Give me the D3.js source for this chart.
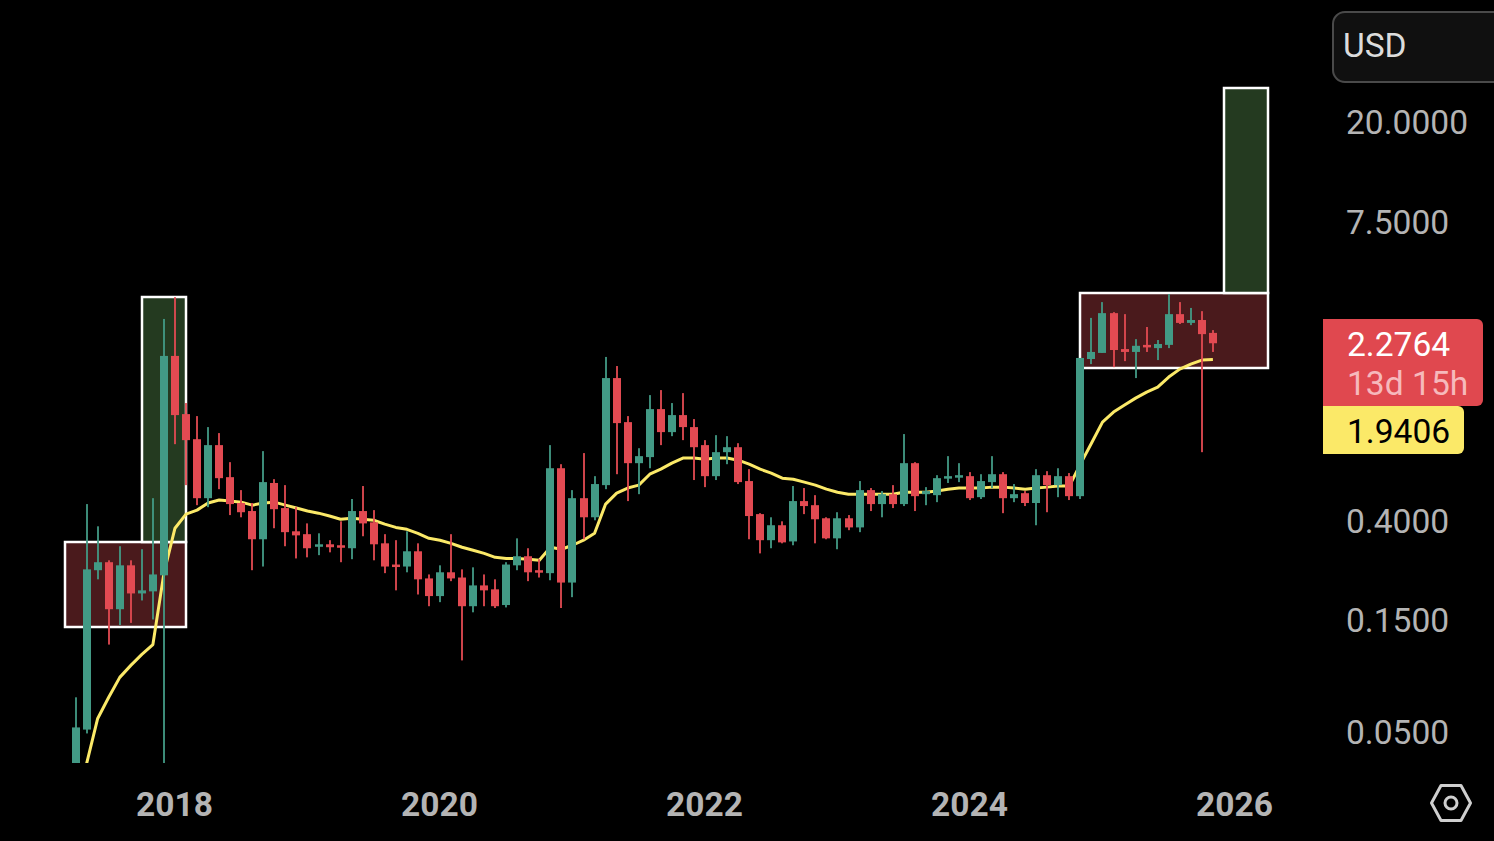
<!DOCTYPE html>
<html>
<head>
<meta charset="utf-8">
<script src="https://cdn.jsdelivr.net/npm/d3@7"></script>
<style>
  html, body { margin: 0; padding: 0; background: #000; overflow: hidden; }
  svg { display: block; font-family: Roboto, sans-serif; }
</style>
</head>
<body>
<script>
const GREEN = "#429a85";
const RED = "#e24a52";
const YELLOW = "#fbe968";
const AXIS_TEXT = "#b4b4b4";

// Monthly candles, first one is Apr 2017
const opens = [.033,.0512,.245,.265,.167,.257,.195,.199,.233,2.01,1.135,.887,.497,.837,.611,.474,.438,.332,.577,.451,.359,.349,.310,.316,.313,.304,.438,.392,.319,.259,.254,.295,.226,.190,.240,.228,.172,.211,.203,.174,.257,.281,.245,.238,.667,.217,.497,.412,.565,1.617,1.049,.701,.744,1.192,.951,1.124,.999,.837,.617,.781,.820,.588,.425,.329,.381,.325,.483,.464,.408,.335,.408,.373,.538,.469,.517,.469,.701,.517,.512,.605,.611,.617,.502,.582,.629,.497,.522,.474,.623,.565,.617,.507,1.95,2.07,3.06,2.15,2.09,2.24,2.17,2.24,3.03,2.78,2.86,2.52];
const highs = [.0703,.469,.377,.270,.310,.270,.301,.497,2.89,3.58,1.265,1.113,.999,.942,.708,.538,.474,.789,.599,.565,.455,.388,.352,.329,.396,.493,.560,.442,.349,.329,.359,.319,.235,.257,.349,.247,.252,.235,.224,.265,.335,.304,.273,.837,.694,.538,.774,.617,1.99,1.82,1.113,.812,1.368,1.437,1.265,1.395,1.081,.879,.923,.914,.853,.661,.429,.412,.396,.560,.549,.512,.412,.433,.421,.588,.549,.533,.565,.933,.708,.554,.623,.751,.701,.642,.629,.751,.642,.571,.533,.661,.648,.667,.636,1.97,2.92,3.41,3.09,3.03,2.37,2.67,2.35,3.69,3.41,3.22,3.12,2.59];
const lows = [.030,.0493,.224,.118,.143,.146,.182,.151,.030,.845,.565,.464,.455,.543,.421,.412,.245,.254,.370,.310,.275,.278,.284,.292,.265,.273,.342,.270,.238,.201,.240,.193,.172,.179,.220,.101,.162,.172,.169,.170,.245,.220,.228,.222,.169,.188,.332,.400,.543,.629,.483,.517,.667,.837,.914,.879,.594,.554,.594,.694,.571,.332,.289,.304,.319,.313,.425,.319,.332,.301,.363,.356,.438,.412,.451,.460,.438,.464,.478,.577,.582,.488,.493,.549,.429,.478,.460,.381,.433,.502,.488,.493,1.855,2.07,1.80,1.91,1.617,2.09,1.93,2.17,2.75,2.72,.781,2.09];
const closes = [.0523,.247,.265,.167,.257,.195,.201,.235,2.01,1.124,.879,.497,.837,.605,.469,.433,.332,.582,.446,.356,.345,.304,.316,.307,.307,.438,.388,.316,.254,.254,.295,.224,.190,.240,.226,.172,.211,.201,.172,.259,.281,.240,.240,.667,.217,.497,.412,.571,1.617,1.039,.701,.751,1.192,.951,1.124,.999,.820,.617,.781,.820,.582,.417,.329,.381,.322,.483,.460,.404,.335,.408,.373,.538,.469,.517,.469,.701,.507,.533,.605,.617,.623,.497,.588,.629,.497,.517,.474,.623,.565,.617,.507,1.97,2.09,3.06,2.13,2.09,2.22,2.19,2.26,3.03,2.78,2.86,2.49,2.2764];
const maValues = [null,.0367,.0571,.0703,.0855,.0962,.1072,.118,.238,.370,.425,.442,.474,.488,.483,.478,.464,.474,.478,.464,.451,.438,.429,.417,.404,.408,.404,.400,.385,.373,.366,.352,.335,.329,.319,.307,.298,.289,.278,.275,.275,.273,.270,.307,.301,.313,.329,.352,.469,.522,.549,.565,.629,.661,.701,.737,.737,.729,.737,.737,.722,.694,.661,.636,.605,.599,.582,.565,.543,.527,.517,.517,.517,.517,.517,.527,.527,.527,.533,.543,.549,.549,.549,.554,.554,.549,.543,.549,.554,.560,.560,.694,.853,1.049,1.158,1.240,1.328,1.409,1.480,1.633,1.766,1.855,1.93,1.9406];

const priceTicks = [20, 7.5, 0.4, 0.15, 0.05];
const yearTicks = [9, 33, 57, 81, 105]; // month index of each January
const yearLabels = ["2018", "2020", "2022", "2024", "2026"];

// Rectangles drawn over the chart, in month index and price
const boxStart = [-1, 6, 91, 104];
const boxEnd = [10, 10, 108, 108];
const boxTop = [0.322, 3.58, 3.73, 27.9];
const boxBottom = [0.1397, 0.322, 1.78, 3.73];
const boxFill = ["#4a1a1c", "#243a20", "#4a1a1c", "#243a20"];

const currency = "USD";
const lastPrice = "2.2764";
const countdown = "13d 15h";
const lastMa = "1.9406";

const width = 1494;
const height = 841;

const x = d3.scaleLinear().domain([0, 103]).range([75.6, 1212.9]);
const y = d3.scaleLog().domain([20, 0.05]).range([122, 732]);

const svg = d3.select("body").append("svg").attr("width", width).attr("height", height);
svg.append("rect").attr("width", width).attr("height", height).attr("fill", "#000");

svg.append("defs").append("clipPath").attr("id", "plot")
  .append("rect").attr("width", 1322).attr("height", 763);

const plot = svg.append("g").attr("clip-path", "url(#plot)");

plot.append("g").selectAll("rect")
  .data(boxStart.map((d, i) => i))
  .join("rect")
  .attr("x", (i) => Math.round(x(boxStart[i])))
  .attr("y", (i) => Math.round(y(boxTop[i])))
  .attr("width", (i) => Math.round(x(boxEnd[i])) - Math.round(x(boxStart[i])))
  .attr("height", (i) => Math.round(y(boxBottom[i])) - Math.round(y(boxTop[i])))
  .attr("fill", (i) => boxFill[i])
  .attr("stroke", "#fff")
  .attr("stroke-width", 2.5);

const maLine = d3.line()
  .defined((d) => d !== null)
  .x((d, i) => x(i))
  .y((d) => y(d));

plot.append("path")
  .attr("d", maLine(maValues))
  .attr("fill", "none")
  .attr("stroke", YELLOW)
  .attr("stroke-width", 3)
  .attr("stroke-linejoin", "round");

const candles = plot.append("g").selectAll("g")
  .data(opens.map((d, i) => i))
  .join("g")
  .attr("fill", (i) => (closes[i] >= opens[i] ? GREEN : RED));

candles.append("rect")
  .attr("x", (i) => Math.round(x(i)) - 1)
  .attr("width", 2)
  .attr("y", (i) => y(highs[i]))
  .attr("height", (i) => y(lows[i]) - y(highs[i]))
  .attr("opacity", 0.9);

candles.append("rect")
  .attr("x", (i) => Math.round(x(i)) - 4)
  .attr("width", 8)
  .attr("y", (i) => y(Math.max(opens[i], closes[i])))
  .attr("height", (i) => Math.max(2.5, Math.abs(y(opens[i]) - y(closes[i]))));

// Price axis
const yAxis = svg.append("g")
  .attr("transform", "translate(1346,1)")
  .call(d3.axisRight(y).tickValues(priceTicks).tickFormat(d3.format(".4f")).tickSize(0).tickPadding(0));
yAxis.select(".domain").remove();
yAxis.selectAll("text")
  .attr("fill", AXIS_TEXT)
  .attr("font-family", "Roboto, sans-serif")
  .attr("font-size", 33.6);

// Time axis
const xAxis = svg.append("g")
  .attr("transform", "translate(-1,792)")
  .call(d3.axisBottom(x).tickValues(yearTicks).tickFormat((d, i) => yearLabels[i]).tickSize(0).tickPadding(0));
xAxis.select(".domain").remove();
xAxis.selectAll("text")
  .attr("fill", AXIS_TEXT)
  .attr("font-family", "Roboto, sans-serif")
  .attr("font-weight", 700)
  .attr("font-size", 33.5);

// Currency button, runs off the right edge
svg.append("rect")
  .attr("x", 1333).attr("y", 12).attr("width", 200).attr("height", 70).attr("rx", 12)
  .attr("fill", "#101010").attr("stroke", "#4a4a4a").attr("stroke-width", 2);
svg.append("text").attr("x", 1343).attr("y", 57)
  .attr("fill", "#dcdcdc").attr("font-size", 33.5).text(currency);

// Last price tags
svg.append("path")
  .attr("d", "M1323,319H1477a6,6 0 0 1 6,6V400a6,6 0 0 1 -6,6H1323Z")
  .attr("fill", "#e0484f");
svg.append("path")
  .attr("d", "M1323,406H1458a6,6 0 0 1 6,6V448a6,6 0 0 1 -6,6H1323Z")
  .attr("fill", YELLOW);
svg.append("text").attr("x", 1347).attr("y", 356)
  .attr("fill", "#fff").attr("font-size", 33.6).text(lastPrice);
svg.append("text").attr("x", 1347).attr("y", 395)
  .attr("fill", "#f6b9bc").attr("font-size", 33.6).text(countdown);
svg.append("text").attr("x", 1347).attr("y", 443)
  .attr("fill", "#000").attr("font-size", 33.6).text(lastMa);

// Settings icon
const icon = svg.append("g").attr("fill", "none").attr("stroke", "#cfcfcf").attr("stroke-width", 3);
icon.append("path")
  .attr("d", "M1431.5,803L1441,785.5H1461L1470.5,803L1461,820.5H1441Z")
  .attr("stroke-linejoin", "round");
icon.append("circle").attr("cx", 1451).attr("cy", 803).attr("r", 6);
</script>
</body>
</html>
